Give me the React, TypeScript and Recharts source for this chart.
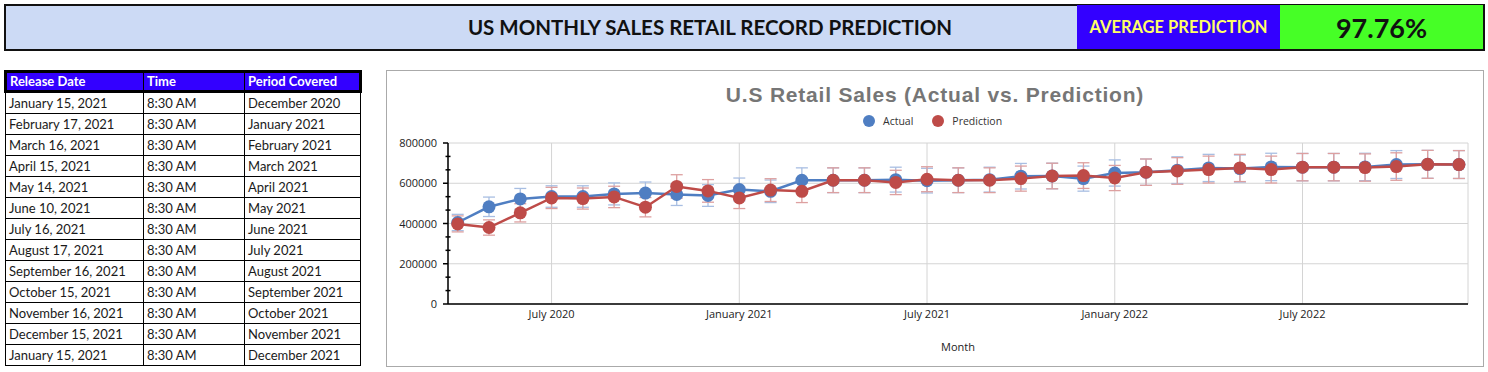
import React from "react";
import { ComposedChart, Line, ErrorBar, XAxis, YAxis, CartesianGrid } from "recharts";

// months on the chart, Apr 2020 .. Dec 2022
const MONTHS = [
  "April 2020", "May 2020", "June 2020", "July 2020", "August 2020", "September 2020",
  "October 2020", "November 2020", "December 2020", "January 2021", "February 2021", "March 2021",
  "April 2021", "May 2021", "June 2021", "July 2021", "August 2021", "September 2021",
  "October 2021", "November 2021", "December 2021", "January 2022", "February 2022", "March 2022",
  "April 2022", "May 2022", "June 2022", "July 2022", "August 2022", "September 2022",
  "October 2022", "November 2022", "December 2022",
];

const ACTUAL = [
  405000, 483000, 522000, 534000, 534000, 547000, 551000, 544000, 539000, 569000, 560000, 615000,
  615000, 615000, 618000, 613000, 615000, 618000, 635000, 636000, 623000, 651000, 655000, 665000,
  676000, 673000, 681000, 680000, 680000, 681000, 693000, 694000, 693000,
];

const PREDICTION = [
  398000, 380000, 453000, 527000, 524000, 532000, 481000, 584000, 562000, 527000, 566000, 560000,
  615000, 615000, 604000, 620000, 615000, 615000, 623000, 636000, 638000, 626000, 655000, 661000,
  668000, 676000, 668000, 680000, 680000, 678000, 683000, 694000, 693000,
];

const ERR_PCT = 0.1; // percentage error bars
const X_TICK_LABELS = ["July 2020", "January 2021", "July 2021", "January 2022", "July 2022"];
const Y_MAJOR = [0, 200000, 400000, 600000, 800000];
const Y_MINOR_PER_MAJOR = 3;

const RELEASE_DATES = [
  "January 15, 2021", "February 17, 2021", "March 16, 2021", "April 15, 2021", "May 14, 2021",
  "June 10, 2021", "July 16, 2021", "August 17, 2021", "September 16, 2021", "October 15, 2021",
  "November 16, 2021", "December 15, 2021", "January 15, 2021",
];
const PERIODS = [
  "December 2020", "January 2021", "February 2021", "March 2021", "April 2021", "May 2021",
  "June 2021", "July 2021", "August 2021", "September 2021", "October 2021", "November 2021",
  "December 2021",
];
const RELEASE_TIME = "8:30 AM";

const BLUE = "#4F7EC2";
const RED = "#BE4B48";
const UI_FONT = 'Lato, "Open Sans", sans-serif';
const CHART_FONT = '"Open Sans", "Noto Sans", sans-serif';

const data = MONTHS.map((m, i) => ({
  idx: i,
  month: m,
  actual: ACTUAL[i],
  prediction: PREDICTION[i],
  actualErr: ACTUAL[i] * ERR_PCT,
  predictionErr: PREDICTION[i] * ERR_PCT,
}));

const xTicks = X_TICK_LABELS.map((l) => MONTHS.indexOf(l));
const yStep = (Y_MAJOR[1] - Y_MAJOR[0]) / Y_MINOR_PER_MAJOR;
const yTicks: number[] = [];
for (let i = 0; i <= (Y_MAJOR.length - 1) * Y_MINOR_PER_MAJOR; i++) yTicks.push(i * yStep);

const Y_TICK_SIZE = 5;
const Y_TICK_MARGIN = 6;

function YTick(props: any) {
  const { x, y, payload } = props;
  const ax = x + Y_TICK_SIZE + Y_TICK_MARGIN;
  const v = Math.round(payload.value);
  const major = Y_MAJOR.includes(v);
  return (
    <g>
      {major ? (
        <line x1={ax - 5} x2={ax} y1={y} y2={y} stroke="#000" strokeWidth={1.5} />
      ) : (
        <line x1={ax - 2.5} x2={ax + 2.5} y1={y} y2={y} stroke="#000" strokeWidth={1.5} />
      )}
      {major && (
        <text x={x} y={y} dy={4} textAnchor="end" fontSize={11} fill="#222" fontFamily={CHART_FONT}>
          {v}
        </text>
      )}
    </g>
  );
}

const cell: React.CSSProperties = {
  border: "1px solid #000",
  padding: "0 3px",
  height: 20,
  lineHeight: "20px",
  whiteSpace: "nowrap",
  color: "#1a1a1a",
};
const headCell: React.CSSProperties = {
  ...cell,
  height: 17,
  lineHeight: "17px",
  background: "#3300FF",
  color: "#fff",
  fontWeight: 700,
  borderTop: "3px solid #000",
  borderBottom: "3px solid #000",
};

export default function App() {
  return (
    <div style={{ position: "absolute", left: 0, top: 0, width: 1488, height: 372, background: "#fff", fontFamily: UI_FONT }}>
      {/* header strip */}
      <div style={{ position: "absolute", left: 4, top: 4, width: 1481, height: 47, boxSizing: "border-box", border: "2px solid #111", background: "#CCDAF5" }} />
      <div style={{ position: "absolute", left: 0, width: 1420, top: 15, textAlign: "center", fontSize: 20.5, fontWeight: 700, color: "#111" }}>
        US MONTHLY SALES RETAIL RECORD PREDICTION
      </div>
      <div style={{ position: "absolute", left: 1077, top: 5, width: 203, height: 44, background: "#3300FF", display: "flex", alignItems: "center", justifyContent: "center" }}>
        <span style={{ color: "#FFFF66", fontWeight: 700, fontSize: 16.5 }}>AVERAGE PREDICTION</span>
      </div>
      <div style={{ position: "absolute", left: 1280, top: 5, width: 203, height: 44, background: "#46FF26", display: "flex", alignItems: "center", justifyContent: "center" }}>
        <span style={{ color: "#111", fontWeight: 700, fontSize: 27 }}>97.76%</span>
      </div>

      {/* release table */}
      <table style={{ position: "absolute", left: 4, top: 70, borderCollapse: "collapse", fontSize: 13, tableLayout: "fixed", width: 355 }}>
        <colgroup>
          <col style={{ width: 138 }} />
          <col style={{ width: 101 }} />
          <col style={{ width: 116 }} />
        </colgroup>
        <thead>
          <tr>
            <th style={{ ...headCell, textAlign: "left", borderLeft: "3px solid #000" }}>Release Date</th>
            <th style={{ ...headCell, textAlign: "left" }}>Time</th>
            <th style={{ ...headCell, textAlign: "left", borderRight: "3px solid #000" }}>Period Covered</th>
          </tr>
        </thead>
        <tbody>
          {RELEASE_DATES.map((d, i) => (
            <tr key={i}>
              <td style={cell}>{d}</td>
              <td style={cell}>{RELEASE_TIME}</td>
              <td style={cell}>{PERIODS[i]}</td>
            </tr>
          ))}
        </tbody>
      </table>

      {/* chart box */}
      <div style={{ position: "absolute", left: 386, top: 70, width: 1098, height: 297, boxSizing: "border-box", border: "1.5px solid #AAAAAA" }} />
      <div style={{ position: "absolute", left: 386, width: 1098, top: 83, textAlign: "center", fontFamily: '"Liberation Sans", Arial, sans-serif', fontWeight: 700, fontSize: 21, color: "#767676", letterSpacing: 0.8 }}>
        U.S Retail Sales (Actual vs. Prediction)
      </div>
      <div style={{ position: "absolute", left: 863, top: 114, display: "flex", alignItems: "center", fontFamily: CHART_FONT, fontSize: 10.5, color: "#333" }}>
        <span style={{ width: 12, height: 12, borderRadius: 6, background: BLUE, display: "inline-block" }} />
        <span style={{ marginLeft: 8 }}>Actual</span>
        <span style={{ width: 12, height: 12, borderRadius: 6, background: RED, display: "inline-block", marginLeft: 19 }} />
        <span style={{ marginLeft: 8 }}>Prediction</span>
      </div>

      <div style={{ position: "absolute", left: 387, top: 130 }}>
        <ComposedChart width={1096} height={237} data={data} margin={{ top: 13, right: 15, left: 0, bottom: 16 }}>
          <CartesianGrid stroke="#D4D4D4" horizontalValues={Y_MAJOR} />
          <XAxis
            dataKey="idx"
            type="number"
            domain={[-0.31, 32.29]}
            ticks={xTicks}
            interval={0}
            tickFormatter={(i: number) => MONTHS[i]}
            tickLine={false}
            tickSize={4}
            tickMargin={2}
            height={47}
            axisLine={{ stroke: "#000", strokeWidth: 1.5 }}
            tick={{ fontSize: 11, fill: "#222", fontFamily: CHART_FONT }}
            label={{ value: "Month", position: "insideBottom", offset: 0, fontSize: 11, fill: "#222", fontFamily: CHART_FONT }}
          />
          <YAxis
            type="number"
            domain={[0, 800000]}
            ticks={yTicks}
            interval={0}
            width={61}
            tickSize={Y_TICK_SIZE}
            tickMargin={Y_TICK_MARGIN}
            tickLine={false}
            tick={<YTick />}
            axisLine={{ stroke: "#000", strokeWidth: 1.5 }}
          />
          <Line
            dataKey="actual"
            type="linear"
            stroke={BLUE}
            strokeWidth={2.5}
            dot={{ r: 6.5, fill: BLUE, stroke: BLUE, strokeWidth: 0 }}
            activeDot={false}
            isAnimationActive={false}
          >
            <ErrorBar dataKey="actualErr" direction="y" width={6} stroke="#A8BEE2" strokeWidth={1.3} isAnimationActive={false} />
          </Line>
          <Line
            dataKey="prediction"
            type="linear"
            stroke={RED}
            strokeWidth={2.5}
            dot={{ r: 6.5, fill: RED, stroke: RED, strokeWidth: 0 }}
            activeDot={false}
            isAnimationActive={false}
          >
            <ErrorBar dataKey="predictionErr" direction="y" width={6} stroke="#DDA0A0" strokeWidth={1.3} isAnimationActive={false} />
          </Line>
        </ComposedChart>
      </div>
    </div>
  );
}
